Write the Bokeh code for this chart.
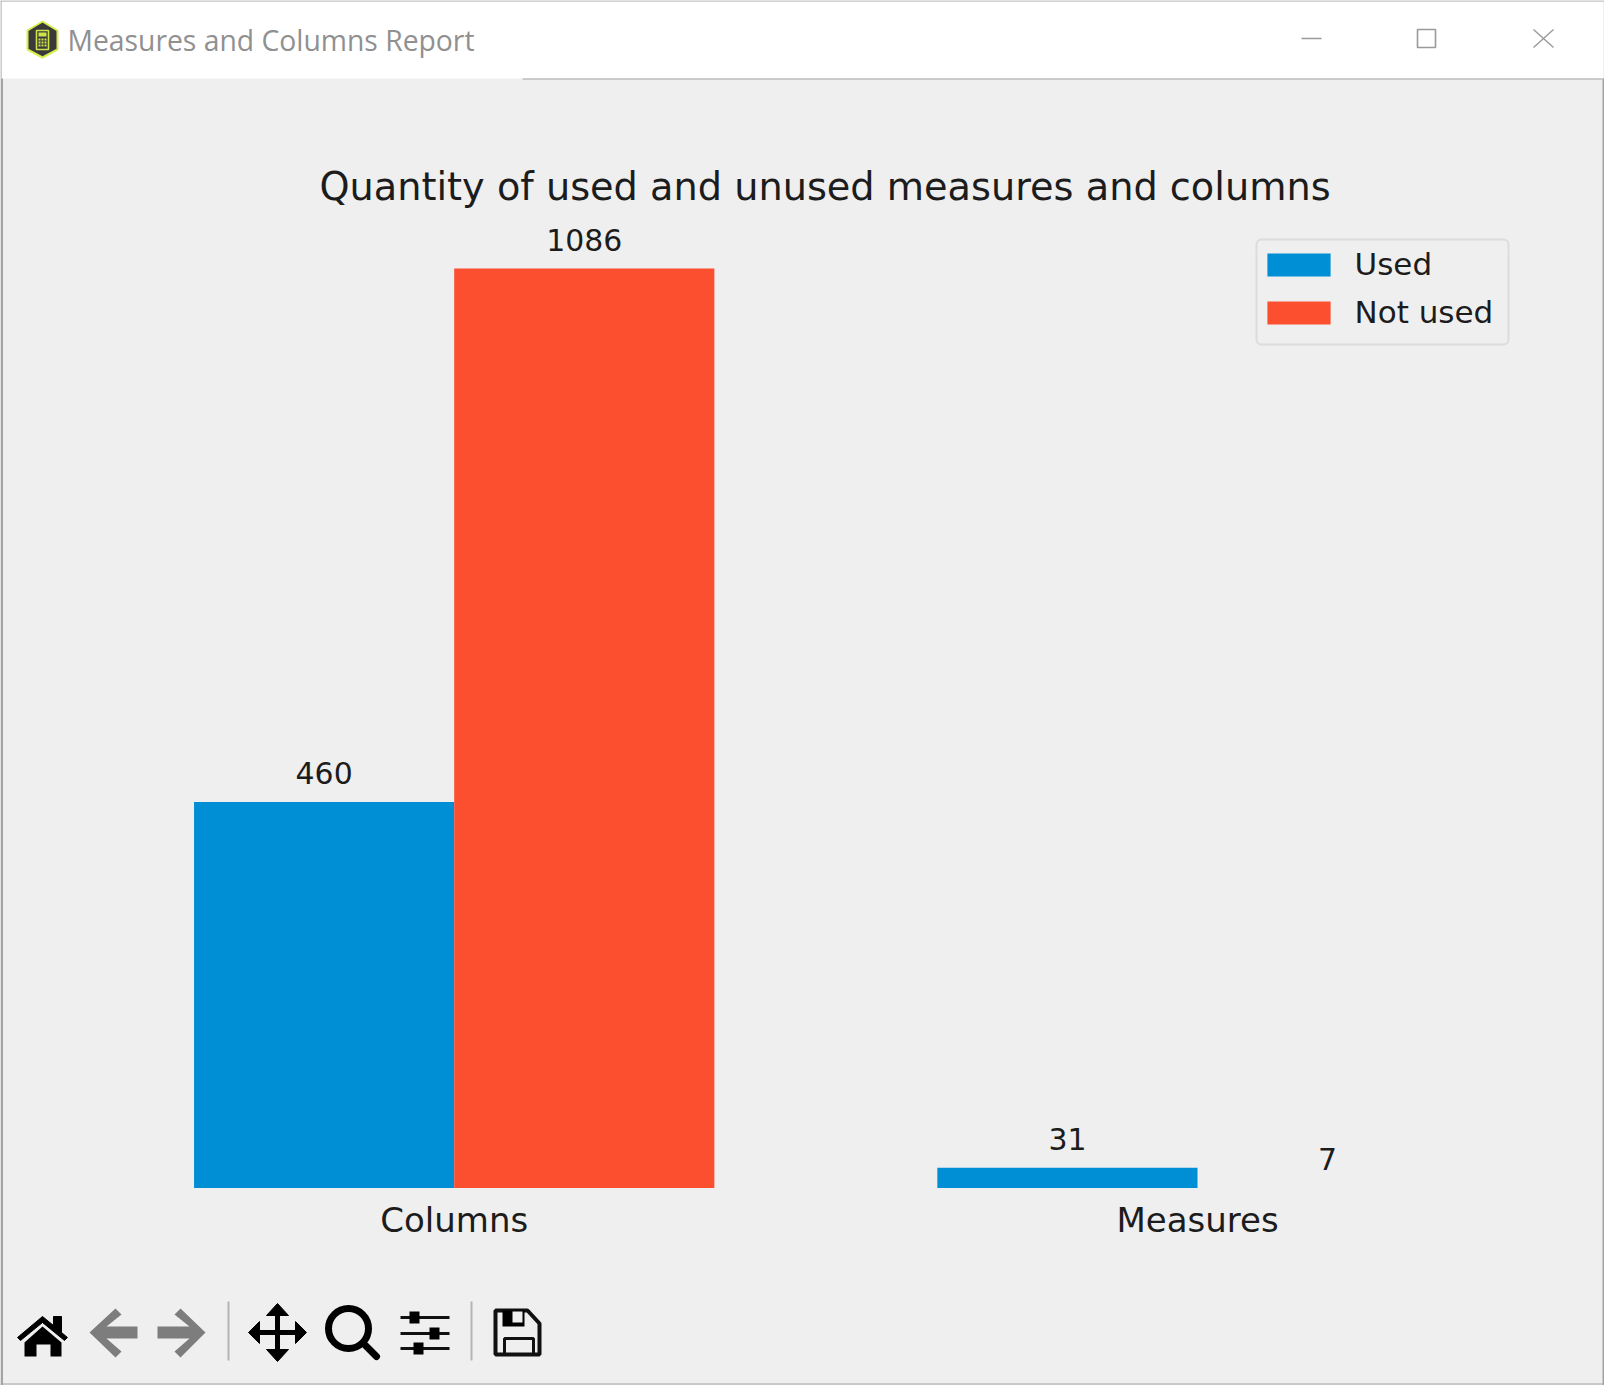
from bokeh.embed import file_html
from bokeh.resources import INLINE
from bokeh.plotting import figure
from bokeh.models import ColumnDataSource, FixedTicker, Legend, LegendItem, Range1d
from bokeh.core.properties import value
import numpy as np

# ---- data ----
categories = ["Columns", "Measures"]
used = [460, 31]
not_used = [1086, 7]
series_names = ["Used", "Not used"]
chart_title = "Quantity of used and unused measures and columns"
window_title = "Measures and Columns Report"

# ---- layout constants (pixels in the 1604x1385 picture) ----
W, H = 1604, 1385
X0_PX, UNIT_PX = 453.7, 743.3      # pixel of category 0, pixels per category
BASE_PX, TOP_PX = 1187.6, 268.0    # axis floor, top of largest bar
BAR_W = 0.35
BLUE, RED = "#008fd5", "#fc4f30"
BG = "#efefef"
FONT = "DejaVu Sans"
INK = "#1c1c1c"

y_floor = min(used + not_used)     # the value axis begins at the smallest value
y_per_px = (max(not_used) - y_floor) / (BASE_PX - TOP_PX)

p = figure(
    width=W, height=H, output_backend="svg", toolbar_location=None,
    x_range=Range1d(-X0_PX / UNIT_PX, (W - X0_PX) / UNIT_PX),
    y_range=Range1d(y_floor - (H - BASE_PX) * y_per_px, y_floor + BASE_PX * y_per_px),
    min_border=0, background_fill_color=BG, border_fill_color=BG,
    outline_line_color=None, margin=(0, 0, 0, 0),
)
p.grid.visible = False
p.yaxis.visible = False

p.extra_x_ranges["px"] = Range1d(0, W)
p.extra_y_ranges["px"] = Range1d(H, 0)
PX = dict(x_range_name="px", y_range_name="px")

# ---- the window round the chart ----
GREY = "#a3a3a3"
p.quad(left=1, right=1602.5, top=0, bottom=78, fill_color="white", line_color=None, **PX)
p.quad(left=0, right=W, top=0, bottom=1, fill_color=GREY, line_color=None, **PX)
p.quad(left=0, right=2.5, top=78, bottom=H, fill_color=GREY, line_color=None, **PX)
p.quad(left=0, right=1, top=0, bottom=78, fill_color=GREY, line_color=None, **PX)
p.quad(left=1602, right=1603.5, top=78, bottom=H, fill_color=GREY, line_color=None, **PX)
p.quad(left=522, right=1602, top=78, bottom=79, fill_color=GREY, line_color=None, **PX)
p.quad(left=0, right=W, top=1383, bottom=1384, fill_color=GREY, line_color=None, **PX)
p.text(x=[67], y=[39.6], text=[window_title], text_font=value("Open Sans"), text_font_size="28.3px",
       text_color="#909090", text_baseline="middle", **PX)
p.patch([42, 57, 57, 42, 27, 27], [21, 30, 49, 57, 49, 30], fill_color="#3a3a3a",
        line_color="#d6ee4e", line_width=2, **PX)
LIME = "#cfe34a"
p.quad(left=36, right=48, top=30, bottom=49, fill_color=None, line_color=LIME, line_width=1.6, **PX)
p.quad(left=38, right=46, top=32, bottom=36, fill_color=LIME, line_color=None, **PX)
p.quad(left=[38, 41, 44] * 3, right=[40, 43, 46] * 3,
       top=[38] * 3 + [41] * 3 + [44] * 3, bottom=[40] * 3 + [43] * 3 + [46] * 3,
       fill_color=LIME, line_color=None, **PX)
p.line([1301, 1321], [38, 38], line_color="#9a9a9a", line_width=1.6, **PX)
p.quad(left=1417, right=1435, top=29, bottom=47, fill_color=None, line_color="#9a9a9a", line_width=1.6, **PX)
p.multi_line([[1533, 1553], [1533, 1553]], [[29, 47], [47, 29]], line_color="#9a9a9a", line_width=1.4, **PX)

# ---- toolbar icons ----
K = "#000000"
p.patch([42, 17, 20, 42, 64, 67, 61, 61, 53, 53], [1316, 1337, 1340, 1322, 1340, 1337, 1332, 1316, 1316, 1325],
        fill_color=K, line_color=K, line_width=1, **PX)
p.patch([42, 24, 24, 36, 36, 50, 50, 61, 61], [1326, 1342, 1356, 1356, 1344, 1344, 1356, 1356, 1342],
        fill_color=K, line_color=None, **PX)
AR = "#7d7d7d"
p.patch([89, 115, 121, 106, 137, 137, 106, 121, 115], [1332, 1308, 1314, 1326, 1326, 1338, 1338, 1351, 1357],
        fill_color=AR, line_color=None, **PX)
p.patch([205, 180, 174, 189, 157, 157, 189, 174, 180], [1332, 1308, 1314, 1326, 1326, 1338, 1338, 1351, 1357],
        fill_color=AR, line_color=None, **PX)
p.multi_line([[228, 228], [471, 471]], [[1301, 1360], [1301, 1360]], line_color="#b4b4b4", line_width=2, **PX)
p.multi_line([[252, 302], [277, 277]], [[1332, 1332], [1307, 1357]], line_color=K, line_width=5, **PX)
p.patches([[248, 259, 259], [306, 295, 295], [277, 266, 288], [277, 266, 288]],
          [[1332, 1321, 1343], [1332, 1321, 1343], [1303, 1315, 1315], [1361, 1349, 1349]],
          fill_color=K, line_color=K, line_width=1, **PX)
p.circle(x=[348], y=[1328], radius=20, radius_units="screen", fill_color=None, line_color=K, line_width=7, **PX)
p.line([365, 376], [1345, 1356], line_color=K, line_width=7, line_cap="round", **PX)
p.multi_line([[400, 449]] * 3, [[1317, 1317], [1333, 1333], [1348, 1348]], line_color="#111111",
             line_width=3, **PX)
p.quad(left=[409, 429, 413], right=[419, 439, 423], top=[1311, 1327, 1342], bottom=[1323, 1339, 1354],
       fill_color=K, line_color=None, **PX)
p.patch([495, 527, 539, 539, 495], [1310, 1310, 1323, 1354, 1354], fill_color=None, line_color="#111111",
        line_width=4, **PX)
p.quad(left=502, right=524, top=1310, bottom=1326, fill_color=K, line_color=None, **PX)
p.quad(left=512, right=522, top=1311, bottom=1322, fill_color=BG, line_color=None, **PX)
p.quad(left=504, right=533, top=1338, bottom=1354, fill_color=None, line_color="#111111", line_width=3, **PX)

# ---- chart ----
x = np.arange(len(categories), dtype=float)
src = ColumnDataSource(dict(x=x, used=used, not_used=not_used, floor=[y_floor] * len(categories),
                            xu=x - BAR_W / 2, xn=x + BAR_W / 2,
                            used_txt=[str(v) for v in used], not_used_txt=[str(v) for v in not_used]))
r_used = p.vbar(x="xu", width=BAR_W, bottom="floor", top="used", source=src, fill_color=BLUE, line_color=None)
r_not = p.vbar(x="xn", width=BAR_W, bottom="floor", top="not_used", source=src, fill_color=RED, line_color=None)

for col, xcol in (("used", "xu"), ("not_used", "xn")):
    p.text(x=xcol, y=col, text=col + "_txt", source=src,
           text_font=value(FONT), text_font_size="29.9px", text_color=INK,
           text_align="center", text_baseline="middle", y_offset=-29)

p.text(x=[824.5], y=[186], text=[chart_title], text_font=value(FONT), text_font_size="38.25px", text_color=INK,
       text_align="center", text_baseline="middle", **PX)

ax = p.xaxis[0]
ax.fixed_location = y_floor
ax.ticker = FixedTicker(ticks=list(x))
ax.major_label_overrides = {float(i): c for i, c in enumerate(categories)}
ax.axis_line_color = None
ax.major_tick_line_color = None
ax.minor_tick_line_color = None
ax.major_label_text_font = FONT
ax.major_label_text_font_size = "34px"
ax.major_label_text_color = INK
ax.major_label_standoff = 6

# legend frame, then the legend itself (bar swatches are drawn at 80% of the glyph box)
p.quad(left=1256, right=1508, top=239, bottom=344, fill_color=BG, line_color="#dcdcdc",
       line_width=2, border_radius=5, **PX)
legend = Legend(
    items=[LegendItem(label=series_names[0], renderers=[r_used]),
           LegendItem(label=series_names[1], renderers=[r_not])],
    location=(1258.5, H - 330), margin=0, padding=0, spacing=12,
    glyph_width=79, glyph_height=29, label_standoff=17,
    label_text_font=FONT, label_text_font_size="31px", label_text_color=INK,
    background_fill_alpha=0, border_line_color=None,
)
p.add_layout(legend, "center")

html = file_html(p, INLINE)
open("out.html", "w").write(html)
